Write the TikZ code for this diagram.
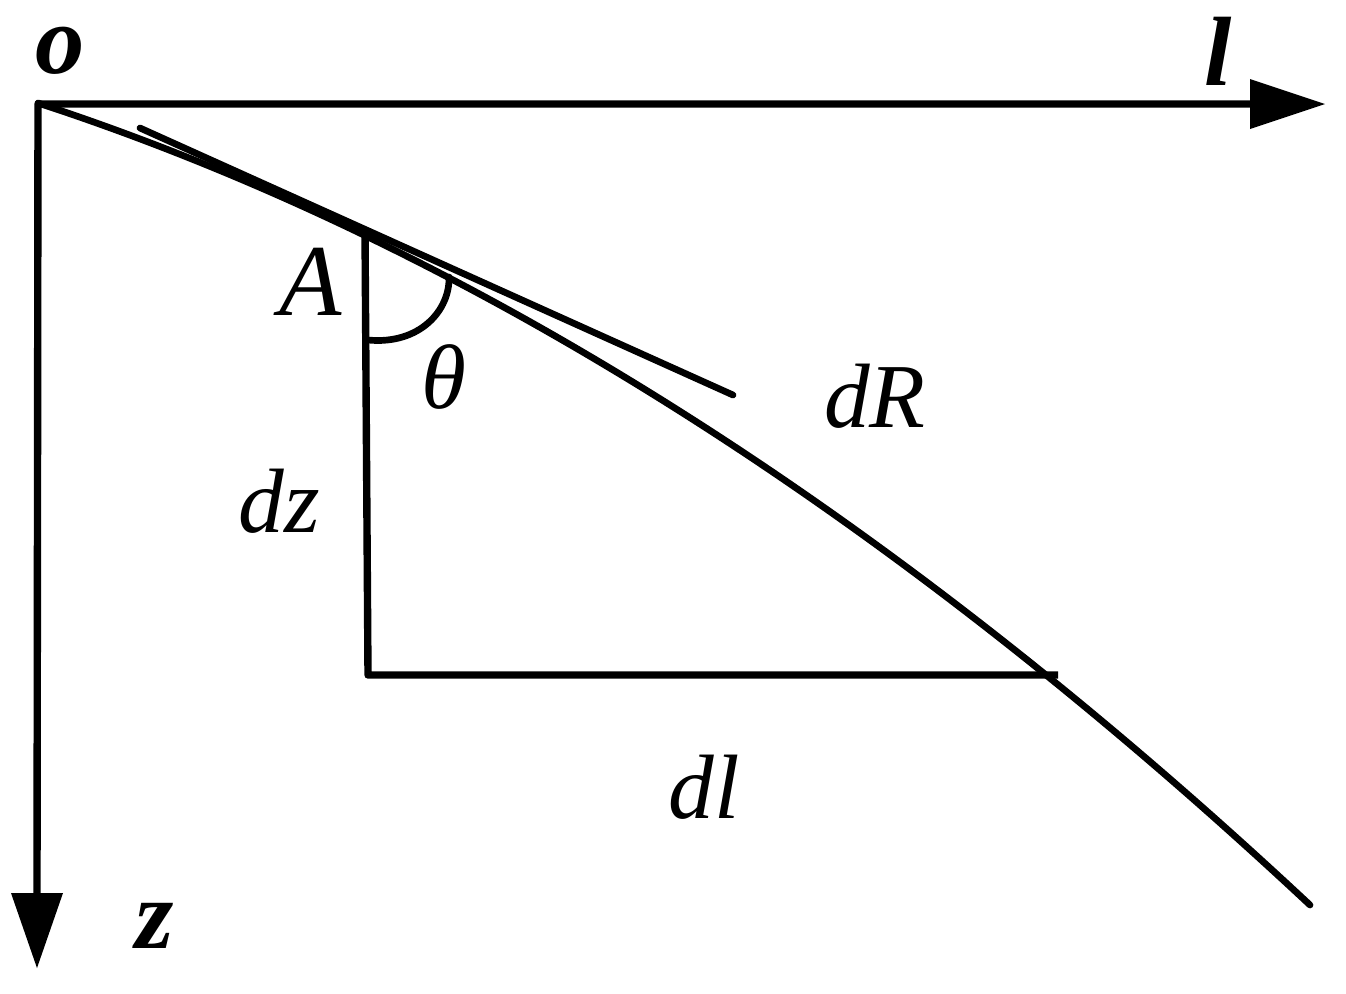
\documentclass[tikz,border=0pt]{standalone}
\usepackage{fontspec}
\setmainfont{Liberation Serif}
\begin{document}
\begin{tikzpicture}[x=0.01cm,y=-0.01cm,line join=round]
\tikzset{
  axis/.style={line width=2.1pt},
  curveline/.style={line width=1.9pt,line cap=round},
  lab/.style={font=\fontsize{26}{30}\selectfont\itshape,inner sep=0pt,anchor=base},
  blab/.style={font=\fontsize{28}{32}\selectfont\bfseries\itshape,inner sep=0pt,anchor=base}
}
\useasboundingbox (0,0) rectangle (1346,993);
% axes
\coordinate (O) at (38,104);
\coordinate (L) at (1252,104);
\coordinate (Z) at (37,895);
\draw[axis] (L) -- (O) -- (Z);
\fill (1250,79) -- (1325,104) -- (1250,129) -- cycle;
\fill (11,893) -- (37,968) -- (63,893) -- cycle;
% curve (parabola)
\coordinate (P0) at (38,103);
\coordinate (P1) at (1310,905);
\draw[curveline] (P0) .. controls (462,242) and (886,508.7) .. (P1);
% tangent
\coordinate (T1) at (140,128);
\coordinate (T2) at (733,395);
\draw[curveline] (T1) -- (T2);
% triangle
\coordinate (Atop) at (365,232);
\coordinate (C) at (368,675);
\coordinate (B) at (1058,675);
\draw[axis] (Atop) -- (C) -- (B);
% angle arc
\coordinate (R1) at (368,340);
\coordinate (R2) at (449,277);
\draw[curveline] (R1) .. controls (420,345) and (450,310) .. (R2);
% labels
\node[blab] (o) at (60,73) {o};
\node[blab] (l) at (1218,85) {l};
\node[blab] (z) at (155,948) {z};
\node[lab,font=\fontsize{29}{32}\selectfont\itshape] (A) at (311,315) {A};
\node[lab] (th) at (444,408) {θ};
\node[lab] (dR) at (875,427) {dR};
\node[lab] (dz) at (279,532) {dz};
\node[lab] (dl) at (704,818) {dl};
\end{tikzpicture}
\end{document}
